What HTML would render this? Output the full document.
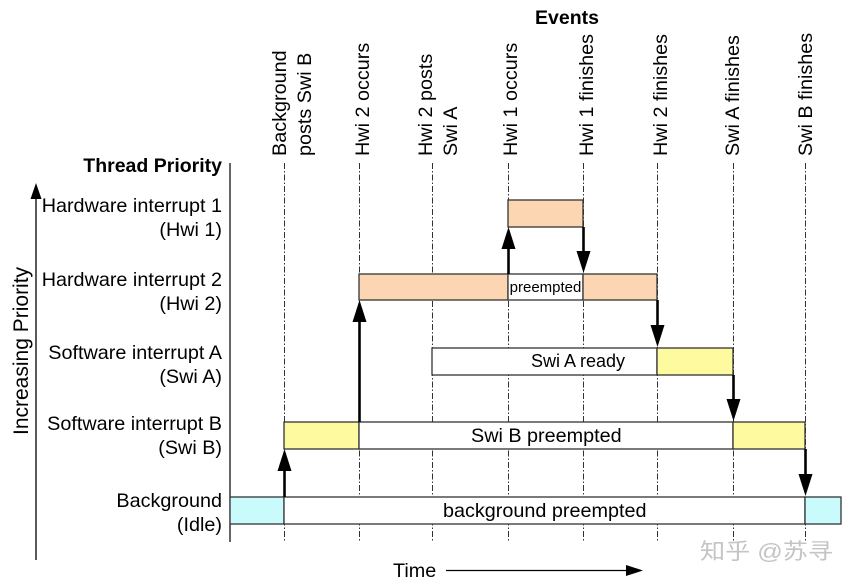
<!DOCTYPE html>
<html><head><meta charset="utf-8"><style>
html,body{margin:0;padding:0;background:#fff;}
svg{display:block;}
text{font-family:"Liberation Sans",Arial,sans-serif;fill:#000;}
</style></head><body>
<svg width="856" height="585" viewBox="0 0 856 585" xmlns="http://www.w3.org/2000/svg">
<rect width="856" height="585" fill="#fff"/>

<!-- Titles -->
<text x="567" y="24" font-size="19.5" font-weight="bold" text-anchor="middle">Events</text>
<text x="222" y="172" font-size="19.5" font-weight="bold" text-anchor="end">Thread Priority</text>

<!-- Rotated event labels -->
<g font-size="19.8">
<text transform="translate(286,156) rotate(-90)">Background</text>
<text transform="translate(311,156) rotate(-90)">posts Swi B</text>
<text transform="translate(369,156) rotate(-90)">Hwi 2 occurs</text>
<text transform="translate(432,156) rotate(-90)">Hwi 2 posts</text>
<text transform="translate(457,156) rotate(-90)">Swi A</text>
<text transform="translate(517,156) rotate(-90)">Hwi 1 occurs</text>
<text transform="translate(593,156) rotate(-90)">Hwi 1 finishes</text>
<text transform="translate(667,156) rotate(-90)">Hwi 2 finishes</text>
<text transform="translate(739,156) rotate(-90)">Swi A finishes</text>
<text transform="translate(812,156) rotate(-90)">Swi B finishes</text>
</g>

<!-- Increasing priority -->
<text transform="translate(28,435) rotate(-90)" font-size="21">Increasing Priority</text>
<line x1="36" y1="196" x2="36" y2="560" stroke="#000" stroke-width="1.3"/>
<polygon points="36,183 30.5,199 41.5,199" fill="#000"/>

<!-- Left labels -->
<g font-size="19.8" text-anchor="end">
<text x="222" y="212">Hardware interrupt 1</text>
<text x="222" y="236">(Hwi 1)</text>
<text x="222" y="286">Hardware interrupt 2</text>
<text x="222" y="310">(Hwi 2)</text>
<text x="222" y="359">Software interrupt A</text>
<text x="222" y="383">(Swi A)</text>
<text x="222" y="430">Software interrupt B</text>
<text x="222" y="454">(Swi B)</text>
<text x="222" y="507">Background</text>
<text x="222" y="531">(Idle)</text>
</g>

<!-- vertical axis line -->
<line x1="230" y1="163" x2="230" y2="542" stroke="#000" stroke-width="1.2"/>

<!-- dashed event lines -->
<g stroke="#333" stroke-width="1" stroke-dasharray="6 2 1.5 2">
<line x1="284.5" y1="163" x2="284.5" y2="541"/>
<line x1="359.5" y1="163" x2="359.5" y2="541"/>
<line x1="432.5" y1="163" x2="432.5" y2="541"/>
<line x1="508.5" y1="163" x2="508.5" y2="541"/>
<line x1="583.5" y1="163" x2="583.5" y2="541"/>
<line x1="657.5" y1="163" x2="657.5" y2="541"/>
<line x1="733.5" y1="163" x2="733.5" y2="541"/>
<line x1="805.5" y1="163" x2="805.5" y2="541"/>
</g>

<!-- Bars -->
<g stroke="#333" stroke-width="1.3">
<rect x="508" y="200" width="75" height="27" fill="#fcd5b2"/>
<rect x="359" y="274" width="149" height="26" fill="#fcd5b2"/>
<rect x="508" y="274" width="75" height="26" fill="#fff"/>
<rect x="583" y="274" width="74" height="26" fill="#fcd5b2"/>
<rect x="432" y="348" width="225" height="27" fill="#fff"/>
<rect x="657" y="348" width="76" height="27" fill="#fdfa9f"/>
<rect x="284" y="422" width="75" height="27" fill="#fdfa9f"/>
<rect x="359" y="422" width="374" height="27" fill="#fff"/>
<rect x="733" y="422" width="72" height="27" fill="#fdfa9f"/>
<rect x="230" y="497" width="54" height="27" fill="#c9fbfd"/>
<rect x="284" y="497" width="521" height="27" fill="#fff"/>
<rect x="805" y="497" width="36" height="27" fill="#c9fbfd"/>
</g>

<!-- Bar text -->
<text x="545.5" y="292" font-size="15" text-anchor="middle">preempted</text>
<text x="531" y="367" font-size="18">Swi A ready</text>
<text x="471" y="442" font-size="19.8">Swi B preempted</text>
<text x="443" y="517" font-size="19.8">background preempted</text>

<!-- Arrows -->
<g stroke="#000" stroke-width="2.6">
<line x1="284.5" y1="497" x2="284.5" y2="468"/>
<line x1="359.5" y1="422" x2="359.5" y2="318"/>
<line x1="508.5" y1="274" x2="508.5" y2="245"/>
<line x1="583.5" y1="227" x2="583.5" y2="256"/>
<line x1="657.5" y1="300" x2="657.5" y2="330"/>
<line x1="733.5" y1="375" x2="733.5" y2="404"/>
<line x1="805.5" y1="449" x2="805.5" y2="479"/>
</g>
<g fill="#000">
<polygon points="284.5,449 277.5,471 291.5,471"/>
<polygon points="359.5,300 352.5,322 366.5,322"/>
<polygon points="508.5,227 501.5,249 515.5,249"/>
<polygon points="583.5,273 576.5,251 590.5,251"/>
<polygon points="657.5,347 650.5,325 664.5,325"/>
<polygon points="733.5,421 726.5,399 740.5,399"/>
<polygon points="805.5,496 798.5,474 812.5,474"/>
</g>

<!-- Time -->
<text x="393" y="577" font-size="19.8">Time</text>
<line x1="446" y1="570.5" x2="630" y2="570.5" stroke="#000" stroke-width="1.2"/>
<polygon points="643,570.5 626,565 626,576" fill="#000"/>

<!-- Watermark -->
<text x="700" y="559" font-size="22" textLength="133" lengthAdjust="spacingAndGlyphs" style="font-family:'Liberation Sans','Noto Sans CJK SC',sans-serif;fill:#c4c4c4;">知乎 @苏寻</text>
</svg>
</body></html>
